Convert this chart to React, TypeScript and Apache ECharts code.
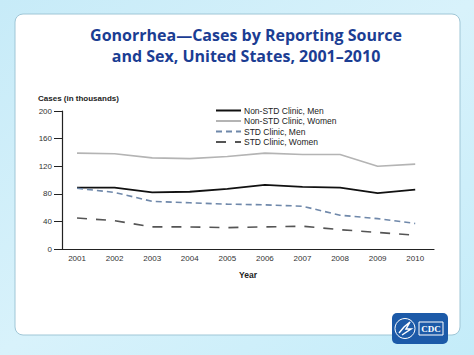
import React, { useEffect, useRef } from "react";
import * as echarts from "echarts";

const years = [2001, 2002, 2003, 2004, 2005, 2006, 2007, 2008, 2009, 2010];
const nonStdMen = [89, 89, 82, 83, 87, 93, 90, 89, 81, 86];
const nonStdWomen = [139, 138, 132, 131, 134, 139, 137, 137, 120, 123];
const stdMen = [88, 82, 69, 67, 65, 64, 62, 49, 44, 37];
const stdWomen = [45, 41, 32, 32, 31, 32, 33, 28, 24, 20];
const yTicks = [0, 40, 80, 120, 160, 200];
const seriesNames = [
  "Non-STD Clinic, Men",
  "Non-STD Clinic, Women",
  "STD Clinic, Men",
  "STD Clinic, Women",
];

export default function App() {
  const ref = useRef<HTMLDivElement>(null);
  useEffect(() => {
    if (!ref.current) return;
    const chart = echarts.init(ref.current, null, { renderer: "svg" });
    const pts = (vals: number[]) => years.map((y, i) => [y, vals[i]]);
    const font = "Liberation Sans, Arial, sans-serif";
    chart.setOption({
      animation: false,
      backgroundColor: new echarts.graphic.LinearGradient(0, 0, 1, 1, [
        { offset: 0, color: "#c7ebf8" },
        { offset: 0.5, color: "#d8f2fb" },
        { offset: 1, color: "#c4ecf9" },
      ]),
      graphic: [
        {
          type: "rect",
          z: -10,
          shape: { x: 15, y: 14, width: 445, height: 321, r: 8 },
          style: { fill: "#ffffff", stroke: "#9fc6d6", lineWidth: 1 },
        },
        {
          type: "text",
          x: 246,
          y: 24,
          style: {
            text: "Gonorrhea\u2014Cases by Reporting Source\nand Sex, United States, 2001\u20132010",
            fontFamily: "Open Sans",
            fontWeight: 700,
            fontSize: 16,
            lineHeight: 21,
            fill: "#1b3d93",
            align: "center",
            verticalAlign: "top",
          },
        },
        {
          type: "text",
          left: 38,
          top: 94,
          style: {
            text: "Cases (in thousands)",
            fontFamily: font,
            fontWeight: 700,
            fontSize: 8,
            fill: "#222",
          },
        },
        {
          type: "group",
          left: 392,
          top: 313,
          children: [
            {
              type: "rect",
              shape: { x: 0, y: 0, width: 56, height: 31, r: 5 },
              style: { fill: "#1c5aa8" },
            },
            {
              type: "circle",
              shape: { cx: 13, cy: 15.5, r: 10 },
              style: { fill: "none", stroke: "#ffffff", lineWidth: 1 },
            },
            {
              type: "polyline",
              shape: { points: [[7, 20], [12, 14], [18, 9], [14, 16], [19, 16], [10, 22]] },
              style: { fill: "none", stroke: "#ffffff", lineWidth: 1.5 },
            },
            {
              type: "rect",
              shape: { x: 27, y: 9, width: 24, height: 13 },
              style: { fill: "none", stroke: "#ffffff", lineWidth: 1 },
            },
            {
              type: "text",
              x: 39,
              y: 15.5,
              style: {
                text: "CDC",
                fontFamily: "Liberation Serif",
                fontWeight: 700,
                fontSize: 9,
                fill: "#ffffff",
                align: "center",
                verticalAlign: "middle",
              },
            },
          ],
        },
      ],
      legend: {
        orient: "vertical",
        left: 210,
        top: 101,
        itemGap: 1.5,
        itemWidth: 25,
        itemHeight: 8.5,
        itemStyle: { opacity: 0 },
        textStyle: { fontSize: 8.5, color: "#222", fontFamily: font, padding: [0, 0, 0, -2] },
        data: seriesNames,
      },
      grid: { left: 62, right: 40, top: 111, bottom: 106, containLabel: false },
      xAxis: {
        type: "value",
        min: 2000.6,
        max: 2010.5,
        name: "Year",
        nameLocation: "middle",
        nameGap: 21,
        nameTextStyle: { fontFamily: font, fontWeight: 700, fontSize: 8.5, color: "#222" },
        axisLine: { show: true, lineStyle: { color: "#222", width: 1.2 } },
        axisTick: { show: false },
        splitLine: { show: false },
        axisLabel: {
          customValues: years,
          fontSize: 8,
          color: "#333",
          fontFamily: font,
          margin: 5,
          formatter: (v: number) => String(v),
        },
      },
      yAxis: {
        type: "value",
        min: 0,
        max: 200,
        interval: 40,
        axisLine: { show: true, lineStyle: { color: "#222", width: 1.2 } },
        axisTick: { show: true, length: 8, lineStyle: { color: "#222", width: 1 } },
        splitLine: { show: false },
        axisLabel: {
          customValues: yTicks,
          fontSize: 8,
          color: "#333",
          fontFamily: font,
          margin: 10,
        },
      },
      series: [
        {
          name: seriesNames[0],
          type: "line",
          data: pts(nonStdMen),
          symbol: "none",
          lineStyle: { color: "#111111", width: 1.8 },
          itemStyle: { color: "#111111" },
        },
        {
          name: seriesNames[1],
          type: "line",
          data: pts(nonStdWomen),
          symbol: "none",
          lineStyle: { color: "#b4b4b4", width: 1.6 },
          itemStyle: { color: "#b4b4b4" },
        },
        {
          name: seriesNames[2],
          type: "line",
          data: pts(stdMen),
          symbol: "none",
          lineStyle: { color: "#6f88aa", width: 1.6, type: [6, 4] },
          itemStyle: { color: "#6f88aa" },
        },
        {
          name: seriesNames[3],
          type: "line",
          data: pts(stdWomen),
          symbol: "none",
          lineStyle: { color: "#555555", width: 1.6, type: [10, 9] },
          itemStyle: { color: "#555555" },
        },
      ],
    });
    return () => chart.dispose();
  }, []);
  return (
    <div
      ref={ref}
      style={{ position: "absolute", left: 0, top: 0, width: 474, height: 355 }}
    />
  );
}
